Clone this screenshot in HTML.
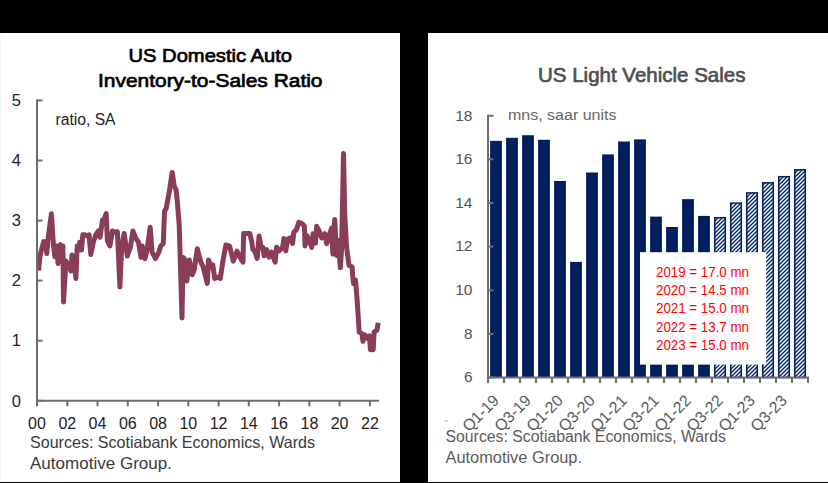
<!DOCTYPE html>
<html><head><meta charset="utf-8"><style>
html,body{margin:0;padding:0;}
body{width:828px;height:483px;background:#000;position:relative;overflow:hidden;font-family:"Liberation Sans",sans-serif;}
.panel{position:absolute;background:#fff;top:33px;height:449px;}
svg{position:absolute;left:0;top:0;font-family:"Liberation Sans",sans-serif;}
.yl{font-size:16.5px;fill:#222;}
.xl{font-size:16px;fill:#222;}
.ryl{font-size:15.5px;fill:#555;}
.xr{font-size:16px;fill:#595959;}
.t{position:absolute;white-space:nowrap;}
</style></head><body>
<div class="panel" style="left:0;width:400px;"></div>
<div style="position:absolute;left:0;top:33px;width:1px;height:449px;background:#f6f6f6"></div>
<div class="panel" style="left:428px;width:400px;"></div>
<svg width="828" height="483" viewBox="0 0 828 483">
<defs>
<pattern id="hatch" patternUnits="userSpaceOnUse" width="4" height="4" x="0" y="0">
<rect width="4" height="4" fill="#fff"/>
<path d="M-1,1 L1,-1 M0,4 L4,0 M3,5 L5,3" stroke="#002060" stroke-width="1.35"/>
</pattern>
</defs>
<path d="M38.6,270.5 L39.8,257.5 L41.2,251.0 L43.7,241.6 L45.5,242.2 L46.8,253.5 L48.0,239.0 L51.4,213.8 L53.4,244.7 L54.9,256.8 L56.7,246.0 L58.0,263.6 L58.6,247.2 L60.4,244.7 L61.1,257.4 L62.9,246.0 L63.5,302.0 L66.0,261.0 L68.5,265.0 L71.0,271.0 L72.0,255.0 L73.5,257.4 L75.9,278.5 L77.2,246.0 L78.5,250.0 L79.7,242.2 L81.5,250.0 L82.8,234.8 L84.6,234.8 L87.1,236.0 L89.0,234.8 L90.8,254.6 L93.3,242.2 L95.8,234.8 L98.3,231.0 L100.0,237.3 L102.5,220.0 L104.3,218.6 L106.2,213.7 L107.4,241.0 L109.9,246.0 L112.4,231.0 L115.5,232.3 L117.4,231.7 L119.9,287.0 L121.7,246.0 L124.2,233.5 L127.3,256.0 L130.4,247.2 L132.9,231.0 L136.0,238.5 L138.5,242.2 L141.0,257.4 L142.2,246.0 L145.0,258.6 L147.1,249.7 L150.2,227.3 L152.1,252.1 L155.5,258.6 L158.9,252.1 L160.8,246.0 L163.3,243.5 L164.5,211.2 L166.2,208.4 L169.6,189.8 L172.2,172.4 L174.3,186.7 L176.1,189.8 L177.4,202.2 L179.2,225.0 L182.0,318.0 L183.1,257.4 L184.3,258.6 L186.8,281.0 L189.3,259.9 L192.4,274.7 L194.2,269.8 L197.3,248.7 L199.2,256.1 L201.1,263.0 L202.9,266.0 L207.3,283.4 L208.5,259.9 L211.0,267.3 L212.8,264.8 L214.7,278.5 L217.8,277.2 L220.3,278.5 L222.8,261.7 L225.9,245.0 L229.6,246.2 L233.3,261.1 L237.0,251.2 L239.9,257.1 L243.0,262.1 L243.6,233.6 L247.3,233.6 L249.8,233.6 L251.6,241.0 L252.9,249.7 L254.7,250.9 L257.2,258.4 L259.1,236.0 L261.0,247.2 L262.8,247.2 L264.1,255.9 L266.5,249.7 L269.0,257.1 L271.5,252.2 L275.2,262.1 L276.5,247.2 L278.9,250.9 L282.7,247.2 L283.9,238.5 L285.8,250.9 L287.6,239.2 L290.1,237.9 L292.6,243.5 L293.8,232.3 L296.3,229.9 L298.8,222.4 L301.9,223.6 L304.4,226.1 L305.0,246.0 L306.9,235.6 L309.3,240.5 L311.8,247.4 L313.0,233.7 L315.5,243.0 L316.7,226.3 L319.2,231.2 L321.7,238.0 L324.8,233.7 L326.7,243.6 L329.2,235.6 L331.6,228.1 L332.9,254.2 L334.7,219.4 L336.6,255.4 L338.5,240.5 L340.3,267.8 L341.6,249.2 L342.3,215.0 L343.5,153.5 L344.8,215.0 L346.5,246.7 L349.0,265.3 L352.1,267.0 L352.7,276.2 L353.6,283.6 L355.5,279.9 L357.3,302.2 L359.2,332.0 L362.0,333.9 L362.9,341.3 L364.8,334.8 L367.6,338.6 L369.5,335.8 L370.4,349.7 L373.2,349.7 L374.1,332.0 L376.9,330.2 L378.2,322.7" fill="none" stroke="#8a3d57" stroke-width="5" stroke-linejoin="round" stroke-linecap="butt"/>
<line x1="37" y1="99.4" x2="37" y2="406.3" stroke="#6e6e6e" stroke-width="2"/><line x1="36" y1="400.8" x2="379" y2="400.8" stroke="#6e6e6e" stroke-width="2"/><line x1="37" y1="100.4" x2="42.5" y2="100.4" stroke="#6e6e6e" stroke-width="2"/><text x="21" y="106.1" text-anchor="end" class="yl">5</text><line x1="37" y1="160.5" x2="42.5" y2="160.5" stroke="#6e6e6e" stroke-width="2"/><text x="21" y="166.2" text-anchor="end" class="yl">4</text><line x1="37" y1="220.6" x2="42.5" y2="220.6" stroke="#6e6e6e" stroke-width="2"/><text x="21" y="226.3" text-anchor="end" class="yl">3</text><line x1="37" y1="280.6" x2="42.5" y2="280.6" stroke="#6e6e6e" stroke-width="2"/><text x="21" y="286.3" text-anchor="end" class="yl">2</text><line x1="37" y1="340.7" x2="42.5" y2="340.7" stroke="#6e6e6e" stroke-width="2"/><text x="21" y="346.4" text-anchor="end" class="yl">1</text><line x1="37" y1="400.8" x2="42.5" y2="400.8" stroke="#6e6e6e" stroke-width="2"/><text x="21" y="406.5" text-anchor="end" class="yl">0</text><line x1="37.0" y1="400.8" x2="37.0" y2="406.3" stroke="#6e6e6e" stroke-width="2"/><text x="37.0" y="429.2" text-anchor="middle" class="xl">00</text><line x1="67.3" y1="400.8" x2="67.3" y2="406.3" stroke="#6e6e6e" stroke-width="2"/><text x="67.3" y="429.2" text-anchor="middle" class="xl">02</text><line x1="97.5" y1="400.8" x2="97.5" y2="406.3" stroke="#6e6e6e" stroke-width="2"/><text x="97.5" y="429.2" text-anchor="middle" class="xl">04</text><line x1="127.8" y1="400.8" x2="127.8" y2="406.3" stroke="#6e6e6e" stroke-width="2"/><text x="127.8" y="429.2" text-anchor="middle" class="xl">06</text><line x1="158.1" y1="400.8" x2="158.1" y2="406.3" stroke="#6e6e6e" stroke-width="2"/><text x="158.1" y="429.2" text-anchor="middle" class="xl">08</text><line x1="188.3" y1="400.8" x2="188.3" y2="406.3" stroke="#6e6e6e" stroke-width="2"/><text x="188.3" y="429.2" text-anchor="middle" class="xl">10</text><line x1="218.6" y1="400.8" x2="218.6" y2="406.3" stroke="#6e6e6e" stroke-width="2"/><text x="218.6" y="429.2" text-anchor="middle" class="xl">12</text><line x1="248.8" y1="400.8" x2="248.8" y2="406.3" stroke="#6e6e6e" stroke-width="2"/><text x="248.8" y="429.2" text-anchor="middle" class="xl">14</text><line x1="279.1" y1="400.8" x2="279.1" y2="406.3" stroke="#6e6e6e" stroke-width="2"/><text x="279.1" y="429.2" text-anchor="middle" class="xl">16</text><line x1="309.4" y1="400.8" x2="309.4" y2="406.3" stroke="#6e6e6e" stroke-width="2"/><text x="309.4" y="429.2" text-anchor="middle" class="xl">18</text><line x1="339.6" y1="400.8" x2="339.6" y2="406.3" stroke="#6e6e6e" stroke-width="2"/><text x="339.6" y="429.2" text-anchor="middle" class="xl">20</text><line x1="369.9" y1="400.8" x2="369.9" y2="406.3" stroke="#6e6e6e" stroke-width="2"/><text x="369.9" y="429.2" text-anchor="middle" class="xl">22</text>
<rect x="490.10" y="140.9" width="11.8" height="236.6" fill="#002060"/><rect x="506.10" y="137.8" width="11.8" height="239.7" fill="#002060"/><rect x="522.10" y="135.2" width="11.8" height="242.3" fill="#002060"/><rect x="538.10" y="139.8" width="11.8" height="237.7" fill="#002060"/><rect x="554.10" y="181.0" width="11.8" height="196.5" fill="#002060"/><rect x="570.10" y="261.9" width="11.8" height="115.6" fill="#002060"/><rect x="586.10" y="172.5" width="11.8" height="205.0" fill="#002060"/><rect x="602.10" y="154.4" width="11.8" height="223.1" fill="#002060"/><rect x="618.10" y="141.5" width="11.8" height="236.0" fill="#002060"/><rect x="634.10" y="139.4" width="11.8" height="238.1" fill="#002060"/><rect x="650.10" y="216.6" width="11.8" height="160.9" fill="#002060"/><rect x="666.10" y="227.0" width="11.8" height="150.5" fill="#002060"/><rect x="682.10" y="199.1" width="11.8" height="178.4" fill="#002060"/><rect x="698.10" y="215.9" width="11.8" height="161.6" fill="#002060"/><rect x="714.75" y="217.7" width="10.5" height="159.8" fill="url(#hatch)" stroke="#002060" stroke-width="1.5"/><rect x="730.75" y="203.1" width="10.5" height="174.4" fill="url(#hatch)" stroke="#002060" stroke-width="1.5"/><rect x="746.75" y="192.9" width="10.5" height="184.6" fill="url(#hatch)" stroke="#002060" stroke-width="1.5"/><rect x="762.75" y="182.8" width="10.5" height="194.7" fill="url(#hatch)" stroke="#002060" stroke-width="1.5"/><rect x="778.75" y="176.7" width="10.5" height="200.8" fill="url(#hatch)" stroke="#002060" stroke-width="1.5"/><rect x="794.75" y="169.8" width="10.5" height="207.7" fill="url(#hatch)" stroke="#002060" stroke-width="1.5"/><line x1="488" y1="114.8" x2="488" y2="383.0" stroke="#6e6e6e" stroke-width="2"/><line x1="487" y1="377.5" x2="809" y2="377.5" stroke="#6e6e6e" stroke-width="2"/><line x1="488" y1="115.8" x2="493.5" y2="115.8" stroke="#6e6e6e" stroke-width="2"/><text x="472.5" y="120.6" text-anchor="end" class="ryl">18</text><line x1="488" y1="159.4" x2="493.5" y2="159.4" stroke="#6e6e6e" stroke-width="2"/><text x="472.5" y="164.2" text-anchor="end" class="ryl">16</text><line x1="488" y1="203.0" x2="493.5" y2="203.0" stroke="#6e6e6e" stroke-width="2"/><text x="472.5" y="207.8" text-anchor="end" class="ryl">14</text><line x1="488" y1="246.6" x2="493.5" y2="246.6" stroke="#6e6e6e" stroke-width="2"/><text x="472.5" y="251.4" text-anchor="end" class="ryl">12</text><line x1="488" y1="290.3" x2="493.5" y2="290.3" stroke="#6e6e6e" stroke-width="2"/><text x="472.5" y="295.1" text-anchor="end" class="ryl">10</text><line x1="488" y1="333.9" x2="493.5" y2="333.9" stroke="#6e6e6e" stroke-width="2"/><text x="472.5" y="338.7" text-anchor="end" class="ryl">8</text><line x1="488" y1="377.5" x2="493.5" y2="377.5" stroke="#6e6e6e" stroke-width="2"/><text x="472.5" y="382.3" text-anchor="end" class="ryl">6</text><line x1="488" y1="377.5" x2="488" y2="383" stroke="#6e6e6e" stroke-width="2"/><line x1="504" y1="377.5" x2="504" y2="383" stroke="#6e6e6e" stroke-width="2"/><line x1="520" y1="377.5" x2="520" y2="383" stroke="#6e6e6e" stroke-width="2"/><line x1="536" y1="377.5" x2="536" y2="383" stroke="#6e6e6e" stroke-width="2"/><line x1="552" y1="377.5" x2="552" y2="383" stroke="#6e6e6e" stroke-width="2"/><line x1="568" y1="377.5" x2="568" y2="383" stroke="#6e6e6e" stroke-width="2"/><line x1="584" y1="377.5" x2="584" y2="383" stroke="#6e6e6e" stroke-width="2"/><line x1="600" y1="377.5" x2="600" y2="383" stroke="#6e6e6e" stroke-width="2"/><line x1="616" y1="377.5" x2="616" y2="383" stroke="#6e6e6e" stroke-width="2"/><line x1="632" y1="377.5" x2="632" y2="383" stroke="#6e6e6e" stroke-width="2"/><line x1="648" y1="377.5" x2="648" y2="383" stroke="#6e6e6e" stroke-width="2"/><line x1="664" y1="377.5" x2="664" y2="383" stroke="#6e6e6e" stroke-width="2"/><line x1="680" y1="377.5" x2="680" y2="383" stroke="#6e6e6e" stroke-width="2"/><line x1="696" y1="377.5" x2="696" y2="383" stroke="#6e6e6e" stroke-width="2"/><line x1="712" y1="377.5" x2="712" y2="383" stroke="#6e6e6e" stroke-width="2"/><line x1="728" y1="377.5" x2="728" y2="383" stroke="#6e6e6e" stroke-width="2"/><line x1="744" y1="377.5" x2="744" y2="383" stroke="#6e6e6e" stroke-width="2"/><line x1="760" y1="377.5" x2="760" y2="383" stroke="#6e6e6e" stroke-width="2"/><line x1="776" y1="377.5" x2="776" y2="383" stroke="#6e6e6e" stroke-width="2"/><line x1="792" y1="377.5" x2="792" y2="383" stroke="#6e6e6e" stroke-width="2"/><line x1="808" y1="377.5" x2="808" y2="383" stroke="#6e6e6e" stroke-width="2"/><text x="500.0" y="401.5" text-anchor="end" class="xr" textLength="44" lengthAdjust="spacingAndGlyphs" transform="rotate(-45 500.0 401.5)">Q1-19</text><text x="532.0" y="401.5" text-anchor="end" class="xr" textLength="44" lengthAdjust="spacingAndGlyphs" transform="rotate(-45 532.0 401.5)">Q3-19</text><text x="564.0" y="401.5" text-anchor="end" class="xr" textLength="44" lengthAdjust="spacingAndGlyphs" transform="rotate(-45 564.0 401.5)">Q1-20</text><text x="596.0" y="401.5" text-anchor="end" class="xr" textLength="44" lengthAdjust="spacingAndGlyphs" transform="rotate(-45 596.0 401.5)">Q3-20</text><text x="628.0" y="401.5" text-anchor="end" class="xr" textLength="44" lengthAdjust="spacingAndGlyphs" transform="rotate(-45 628.0 401.5)">Q1-21</text><text x="660.0" y="401.5" text-anchor="end" class="xr" textLength="44" lengthAdjust="spacingAndGlyphs" transform="rotate(-45 660.0 401.5)">Q3-21</text><text x="692.0" y="401.5" text-anchor="end" class="xr" textLength="44" lengthAdjust="spacingAndGlyphs" transform="rotate(-45 692.0 401.5)">Q1-22</text><text x="724.0" y="401.5" text-anchor="end" class="xr" textLength="44" lengthAdjust="spacingAndGlyphs" transform="rotate(-45 724.0 401.5)">Q3-22</text><text x="756.0" y="401.5" text-anchor="end" class="xr" textLength="44" lengthAdjust="spacingAndGlyphs" transform="rotate(-45 756.0 401.5)">Q1-23</text><text x="788.0" y="401.5" text-anchor="end" class="xr" textLength="44" lengthAdjust="spacingAndGlyphs" transform="rotate(-45 788.0 401.5)">Q3-23</text>
<rect x="640" y="252.2" width="126.2" height="112.4" fill="#fff"/>
<rect x="445.6" y="420.3" width="1.5" height="1.5" fill="#999"/>
<text x="128.5" y="61.9" font-size="19" fill="#000" font-weight="normal" text-anchor="start" textLength="163.5" lengthAdjust="spacingAndGlyphs" stroke="#000" stroke-width="0.7">US Domestic Auto</text>
<text x="98" y="86.5" font-size="19" fill="#000" font-weight="normal" text-anchor="start" textLength="224.5" lengthAdjust="spacingAndGlyphs" stroke="#000" stroke-width="0.7">Inventory-to-Sales Ratio</text>
<text x="538" y="81.6" font-size="19.5" fill="#505050" font-weight="normal" text-anchor="start" textLength="207.5" lengthAdjust="spacingAndGlyphs" stroke="#505050" stroke-width="0.65">US Light Vehicle Sales</text>
<text x="55.5" y="124.8" font-size="16" fill="#222" font-weight="normal" text-anchor="start" textLength="60" lengthAdjust="spacingAndGlyphs" >ratio, SA</text>
<text x="508" y="119.9" font-size="15.5" fill="#666" font-weight="normal" text-anchor="start" textLength="108.5" lengthAdjust="spacingAndGlyphs" >mns, saar units</text>
<text x="30" y="447.6" font-size="16.5" fill="#3a3a3a" font-weight="normal" text-anchor="start" textLength="285" lengthAdjust="spacingAndGlyphs" >Sources: Scotiabank Economics, Wards</text>
<text x="30" y="469.4" font-size="16.5" fill="#3a3a3a" font-weight="normal" text-anchor="start" textLength="142" lengthAdjust="spacingAndGlyphs" >Automotive Group.</text>
<text x="445.5" y="441.6" font-size="16" fill="#5c5c5c" font-weight="normal" text-anchor="start" textLength="280.5" lengthAdjust="spacingAndGlyphs" >Sources: Scotiabank Economics, Wards</text>
<text x="445.5" y="462.8" font-size="16" fill="#5c5c5c" font-weight="normal" text-anchor="start" textLength="136.5" lengthAdjust="spacingAndGlyphs" >Automotive Group.</text>
<text x="656" y="276.7" font-size="14.5" fill="#f00" font-weight="normal" text-anchor="start" textLength="93" lengthAdjust="spacingAndGlyphs" >2019 = 17.0 mn</text>
<text x="656" y="295.0" font-size="14.5" fill="#f00" font-weight="normal" text-anchor="start" textLength="93" lengthAdjust="spacingAndGlyphs" >2020 = 14.5 mn</text>
<text x="656" y="313.3" font-size="14.5" fill="#f00" font-weight="normal" text-anchor="start" textLength="93" lengthAdjust="spacingAndGlyphs" >2021 = 15.0 mn</text>
<text x="656" y="331.6" font-size="14.5" fill="#f00" font-weight="normal" text-anchor="start" textLength="93" lengthAdjust="spacingAndGlyphs" >2022 = 13.7 mn</text>
<text x="656" y="349.9" font-size="14.5" fill="#f00" font-weight="normal" text-anchor="start" textLength="93" lengthAdjust="spacingAndGlyphs" >2023 = 15.0 mn</text>
</svg>
</body></html>
